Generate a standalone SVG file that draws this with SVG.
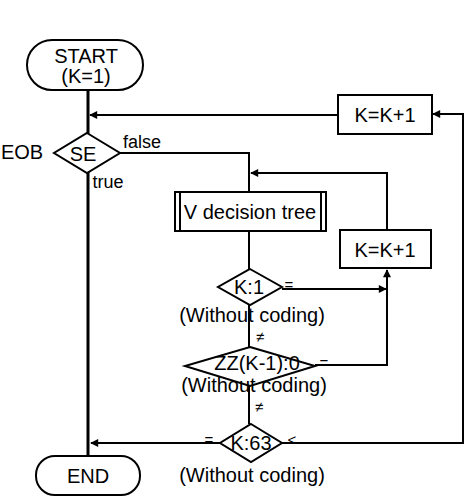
<svg xmlns="http://www.w3.org/2000/svg" width="466" height="498" viewBox="0 0 466 498">
<style>
text{font-family:"Liberation Sans",Arial,sans-serif;font-size:20px;fill:#000;text-anchor:middle}
.s{font-size:18px}
.m{font-size:15px}
.box{fill:#fff;stroke:#000;stroke-width:2}
.ln{fill:none;stroke:#000;stroke-width:2}
.thick{stroke-width:3}
</style>
<defs>
<marker id="ah" viewBox="0 0 10 10" refX="9" refY="5" markerWidth="10" markerHeight="8" markerUnits="userSpaceOnUse" orient="auto">
<path d="M0,0 L10,5 L0,10 z" fill="#000"/>
</marker>
</defs>
<rect width="466" height="498" fill="#fff"/>
<g id="connectors">
<path class="ln thick" d="M88,90 V456"/>
<path class="ln" d="M338,115 H90" marker-end="url(#ah)"/>
<path class="ln" d="M282,443 H91" marker-end="url(#ah)"/>
<path class="ln" d="M119,153 H249 V192"/>
<path class="ln" d="M387,230 V173 H251" marker-end="url(#ah)"/>
<path class="ln" d="M249,231 V269"/>
<path class="ln" d="M282,289 H386" marker-end="url(#ah)"/>
<path class="ln" d="M315,365 H387 V270" marker-end="url(#ah)"/>
<path class="ln" d="M249,305 V347"/>
<path class="ln" d="M249,386 V424"/>
<path class="ln" d="M282,443 H463 V114 H433" marker-end="url(#ah)"/>
</g>
<g id="start">
<rect class="box" x="27" y="40" width="116" height="50" rx="25"/>
<text x="86" y="63">START</text>
<text x="86" y="83">(K=1)</text>
</g>
<g id="se">
<path class="box" d="M87,133 L120,153 L87,173 L54,153 z"/>
<text x="83" y="161">SE</text>
<text x="22" y="159">EOB</text>
<text class="s" x="142" y="148">false</text>
<text class="s" x="108" y="188">true</text>
</g>
<g id="inc1">
<rect class="box" x="338" y="95" width="94" height="39"/>
<text x="385" y="122">K=K+1</text>
</g>
<g id="vtree">
<rect class="box" x="175" y="192" width="151" height="39"/>
<path class="ln" d="M180,192 V231 M321,192 V231"/>
<text x="250" y="219">V decision tree</text>
</g>
<g id="inc2">
<rect class="box" x="340" y="230" width="91" height="38"/>
<text x="385" y="257">K=K+1</text>
</g>
<g id="k1">
<path class="box" d="M250,269 L282,287 L250,305 L218,287 z"/>
<text x="249" y="294">K:1</text>
<text class="m" x="289" y="290">=</text>
<text x="252" y="322">(Without coding)</text>
<text class="m" x="260" y="342">≠</text>
</g>
<g id="zz">
<path class="box" d="M250,347 L315,366 L250,386 L185,366 z"/>
<text x="257" y="370">ZZ(K-1):0</text>
<text class="m" x="324" y="368">=</text>
<text x="254" y="392">(Without coding)</text>
<text class="m" x="259" y="412">≠</text>
</g>
<g id="k63">
<path class="box" d="M251,424 L282,443 L251,462 L220,443 z"/>
<text x="251" y="450">K:63</text>
<text class="m" x="209" y="445">=</text>
<text class="m" x="292" y="445">&lt;</text>
<text x="252" y="482">(Without coding)</text>
</g>
<g id="end">
<rect class="box" x="36" y="456" width="104" height="39" rx="19"/>
<text x="88" y="483">END</text>
</g>
</svg>
